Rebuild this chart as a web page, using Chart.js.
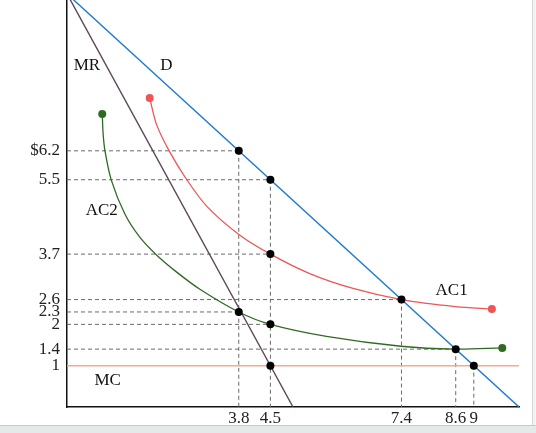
<!DOCTYPE html>
<html>
<head>
<meta charset="utf-8">
<script src="https://cdn.jsdelivr.net/npm/chart.js@4.4.1/dist/chart.umd.min.js"></script>
<style>
html, body { margin: 0; padding: 0; background: #fff; overflow: hidden; }
#wrap { position: relative; width: 536px; height: 433px; }
#edge { position: absolute; left: 532px; top: 0; width: 4px; height: 425px; background: #f3f3f3; border-left: 1px solid #d6d6d6; }
#bar { position: absolute; left: 0; top: 425px; width: 536px; height: 8px; background: #e5e9e9; border-top: 1px solid #c9c9c9; }
</style>
</head>
<body>
<div id="wrap">
  <canvas id="myChart" width="536" height="433"></canvas>
  <div id="edge"></div>
  <div id="bar"></div>
</div>
<script>
// lines
var demandQ = [0, 10];
var demandP = [10, 0];
var mrQ = [0, 5];
var mrP = [10, 0];
var mcQ = [0, 10];
var mcP = [1, 1];

// average cost curves
var ac1Q = [1.83, 1.98, 2.26, 2.65, 3.1, 3.81, 4.5, 5.37, 6.33, 7.4, 8.6, 9.4];
var ac1P = [7.48, 6.84, 6.2, 5.5, 4.85, 4.17, 3.7, 3.23, 2.87, 2.6, 2.43, 2.37];
var ac2Q = [0.78, 0.8, 0.84, 0.98, 1.28, 1.61, 1.98, 2.42, 2.94, 3.8, 4.5, 5.74, 7.39, 8.6, 9.63];
var ac2P = [7.09, 6.6, 6.2, 5.49, 4.67, 4.11, 3.68, 3.27, 2.85, 2.3, 2.0, 1.71, 1.47, 1.4, 1.43];

// marked points
var pointQ = [3.8, 4.5, 4.5, 7.4, 3.8, 4.5, 8.6, 9, 4.5];
var pointP = [6.2, 5.5, 3.7, 2.6, 2.3, 2, 1.4, 1, 1];

// ticks
var xTicks = [3.8, 4.5, 7.4, 8.6, 9];
var yTicks = [1, 1.4, 2, 2.3, 2.6, 3.7, 5.5, 6.2];
var yTickLabels = ['1', '1.4', '2', '2.3', '2.6', '3.7', '5.5', '$6.2'];

// curve labels
var labelText = ['MR', 'D', 'AC2', 'AC1', 'MC'];
var labelQ = [0.44, 2.2, 0.77, 8.51, 0.9];
var labelP = [8.27, 8.27, 4.76, 2.83, 0.64];

function pts(qs, ps) {
    return qs.map(function (q, i) { return { x: q, y: ps[i] }; });
}
function ends(qs, ps) {
    var n = qs.length - 1;
    return [{ x: qs[0], y: ps[0] }, { x: qs[n], y: ps[n] }];
}

var guideColor = '#6a6a6a';
var guides = [];
// horizontal guides from the y axis to each marked point
pointP.forEach(function (p, i) {
    if (p === 1) return;
    guides.push([{ x: 0, y: p }, { x: pointQ[i], y: p }]);
});
// vertical guides down to the x axis, from the highest point at each q
xTicks.forEach(function (q) {
    var top = 0;
    pointQ.forEach(function (pq, i) { if (pq === q && pointP[i] > top) top = pointP[i]; });
    guides.push([{ x: q, y: top }, { x: q, y: 0 }]);
});

var datasets = [
    { data: pts(pointQ, pointP), pointRadius: 4, pointBackgroundColor: '#000', pointBorderWidth: 0, showLine: false },
    { data: ends(ac1Q, ac1P), pointRadius: 4, pointBackgroundColor: '#ee5555', pointBorderWidth: 0, showLine: false },
    { data: ends(ac2Q, ac2P), pointRadius: 4, pointBackgroundColor: '#2f6a23', pointBorderWidth: 0, showLine: false },
    { data: pts(demandQ, demandP), borderColor: '#1f7ad0', borderWidth: 1.4, showLine: true, pointRadius: 0 },
    { data: pts(mrQ, mrP), borderColor: '#5b4758', borderWidth: 1.4, showLine: true, pointRadius: 0 },
    { data: pts(ac1Q, ac1P), borderColor: '#ee5555', borderWidth: 1.3, showLine: true, pointRadius: 0, tension: 0.3 },
    { data: pts(ac2Q, ac2P), borderColor: '#2f6a23', borderWidth: 1.3, showLine: true, pointRadius: 0, tension: 0.3 },
    { data: pts(mcQ, mcP), borderColor: '#f6a98c', borderWidth: 1.6, showLine: true, pointRadius: 0 }
];
guides.forEach(function (g) {
    datasets.push({ data: g, borderColor: guideColor, borderWidth: 1, borderDash: [4, 3], showLine: true, pointRadius: 0 });
});

var curveLabels = {
    id: 'curveLabels',
    afterDatasetsDraw: function (chart) {
        var c = chart.ctx, xs = chart.scales.x, ys = chart.scales.y;
        c.save();
        c.font = '17px "Liberation Serif"';
        c.fillStyle = '#111';
        c.textAlign = 'center';
        c.textBaseline = 'middle';
        labelText.forEach(function (t, i) {
            c.fillText(t, xs.getPixelForValue(labelQ[i]), ys.getPixelForValue(labelP[i]));
        });
        c.restore();
    }
};

var ctx = document.getElementById('myChart').getContext('2d');
var myChart = new Chart(ctx, {
    type: 'scatter',
    data: { datasets: datasets },
    plugins: [curveLabels],
    options: {
        responsive: false,
        animation: false,
        layout: { autoPadding: false, padding: { top: 0, right: 17, left: 0, bottom: 0 } },
        plugins: {
            legend: { display: false },
            tooltip: { enabled: false }
        },
        scales: {
            x: {
                type: 'linear',
                min: 0,
                max: 10,
                grid: { display: false, drawTicks: false },
                border: { display: true, color: '#111', width: 1.5 },
                afterBuildTicks: function (scale) {
                    scale.ticks = xTicks.map(function (v) { return { value: v }; });
                },
                afterFit: function (scale) { scale.height = 26; scale.paddingLeft = 0; scale.paddingRight = 0; },
                ticks: {
                    autoSkip: false,
                    maxRotation: 0,
                    padding: 3,
                    color: '#222',
                    font: { family: 'Liberation Serif', size: 17, lineHeight: 1 },
                    callback: function (v) { return String(v); }
                }
            },
            y: {
                type: 'linear',
                min: 0,
                max: 9.85,
                grid: { display: false, drawTicks: false },
                border: { display: true, color: '#111', width: 1.5 },
                afterBuildTicks: function (scale) {
                    scale.ticks = yTicks.map(function (v) { return { value: v }; });
                },
                afterFit: function (scale) { scale.width = 67; scale.paddingTop = 0; scale.paddingBottom = 0; },
                ticks: {
                    autoSkip: false,
                    padding: 7,
                    color: '#222',
                    font: { family: 'Liberation Serif', size: 17, lineHeight: 1 },
                    callback: function (v) { return yTickLabels[yTicks.indexOf(v)]; }
                }
            }
        }
    }
});
</script>
</body>
</html>
